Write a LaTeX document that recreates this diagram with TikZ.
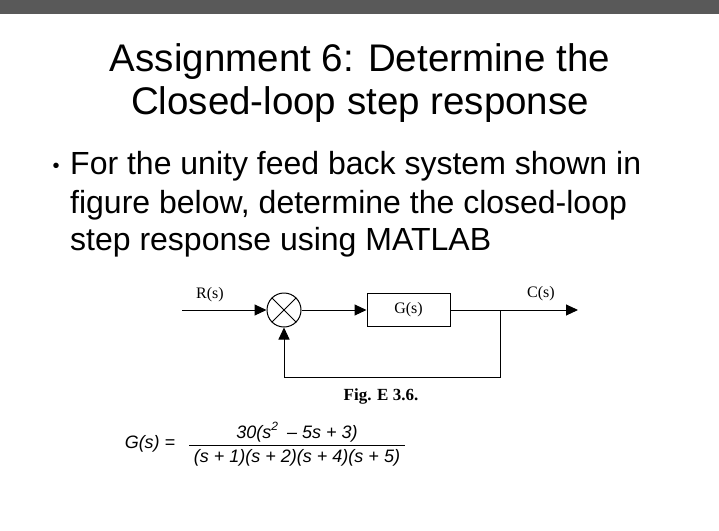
\documentclass[tikz,border=0pt]{standalone}
\usepackage{fontspec}
\setmainfont{Liberation Serif}
\newfontfamily\headfont{Liberation Sans}
\newfontfamily\eqfont{Liberation Sans}
\usetikzlibrary{arrows.meta}
\begin{document}
\begin{tikzpicture}[x=1pt,y=-1pt,
  sig/.style={draw,line width=1pt,-{Triangle[length=12pt,width=11pt]}},
  ln/.style={draw,line width=1pt},
  blk/.style={draw,line width=1pt,minimum width=83pt,minimum height=33pt,inner sep=0pt,font=\fontsize{16}{18}\selectfont},
  lbl/.style={font=\fontsize{16}{18}\selectfont,inner sep=0pt},
  eqt/.style={font=\eqfont\itshape\fontsize{18}{20}\selectfont,inner sep=0pt},
  head/.style={font=\headfont\fontsize{38.5}{44}\selectfont,inner sep=0pt},
  body/.style={font=\headfont\fontsize{32}{36}\selectfont,inner sep=0pt,anchor=west}]
\useasboundingbox[fill=white] (0,0) rectangle (719,530);
\fill[black!65] (0,0) rectangle (719,14);
\node[head] (t1) at (360,62) {Assignment 6: Determine the};
\node[head] (t2) at (360,105) {Closed-loop step response};
\node[font=\headfont\fontsize{20}{22}\selectfont,inner sep=0pt] (bul) at (56,168) {•};
\node[body] (b1) at (70,166) {For the unity feed back system shown in};
\node[body] (b2) at (70,205) {figure below, determine the closed-loop};
\node[body] (b3) at (70,242) {step response using MATLAB};
% diagram
\coordinate (in) at (182,310);
\node[draw,circle,line width=1pt,minimum size=34pt,inner sep=0pt] (sum) at (284,310) {};
\draw[line width=1pt] (sum.north west)--(sum.south east) (sum.north east)--(sum.south west);
\node[blk] (g) at (408.5,310) {G(s)};
\coordinate (j) at (500,310);
\coordinate (out) at (578,310);
\coordinate (fb1) at (500,377);
\coordinate (fb2) at (284,377);
\draw[sig] (in) -- (sum.west);
\draw[sig] (sum.east) -- (g.west);
\draw[ln] (g.east) -- (j);
\draw[sig] (j) -- (out);
\draw[sig] (j) -- (fb1) -- (fb2) -- (sum.south);
\node[lbl] (r) at (210,295) {R(s)};
\node[lbl] (c) at (541,294) {C(s)};
\node[font=\bfseries\fontsize{17}{19}\selectfont,inner sep=0pt] (fig) at (381,396) {Fig. E 3.6.};
\node[eqt] (gl) at (150,444) {G(s) =};
\node[eqt] (num) at (297,432) {30(s\raisebox{0.45em}{\fontsize{12}{12}\selectfont 2}\enspace – 5s + 3)};
\node[eqt] (den) at (297,458) {(s + 1)(s + 2)(s + 4)(s + 5)};
\draw[line width=0.7pt] (189,445) -- (405,445);
\end{tikzpicture}
\end{document}
